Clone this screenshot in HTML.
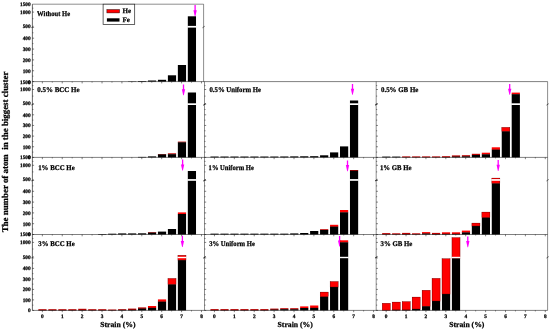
<!DOCTYPE html>
<html lang="en"><head><meta charset="utf-8"><title>Cluster size vs strain</title>
<style>html,body{margin:0;padding:0;background:#fff}svg{display:block}text{font-family:"Liberation Serif","Times New Roman",serif;font-weight:bold;fill:#000;stroke:#000;stroke-width:0.25px;stroke-linejoin:round;text-rendering:geometricPrecision}</style></head><body>
<svg width="550" height="330" viewBox="0 0 550 330">
<rect x="0" y="0" width="550" height="330" fill="#fff"/>
<g fill="#f0f" stroke="none">
<path d="M194.45 5h1.3V10.3h1L195.4 16.4h-0.6L193.45 10.3h1z"/>
<path d="M182.85 84.5h1.3V89.2h1L183.8 95.3h-0.6L181.85 89.2h1z"/>
<path d="M181.95 159.6h1.3V164.4h1L182.9 170.5h-0.6L180.95 164.4h1z"/>
<path d="M181.75 235.8h1.3V240.9h1L182.7 247h-0.6L180.75 240.9h1z"/>
<path d="M351.85 84h1.3V88.7h1L352.8 94.8h-0.6L350.85 88.7h1z"/>
<path d="M346.85 160.4h1.3V165.1h1L347.8 171.2h-0.6L345.85 165.1h1z"/>
<path d="M338.95 236h1.3V240.4h1L339.9 246.5h-0.6L337.95 240.4h1z"/>
<path d="M509.05 84.1h1.3V88.7h1L510 94.8h-0.6L508.05 88.7h1z"/>
<path d="M497.55 160h1.3V164.8h1L498.5 170.9h-0.6L496.55 164.8h1z"/>
<path d="M467.15 236.4h1.3V241.1h1L468.1 247.2h-0.6L466.15 241.1h1z"/>
</g>
<g>
<rect x="128.03" y="81.3" width="8.2" height="0.3" fill="#000"/>
<rect x="138" y="81" width="8.2" height="0.6" fill="#000"/>
<rect x="147.96" y="80.5" width="8.2" height="1.1" fill="#000"/>
<rect x="157.93" y="79.8" width="8.2" height="1.8" fill="#000"/>
<rect x="167.89" y="75.3" width="8.2" height="6.3" fill="#000"/>
<rect x="177.86" y="65" width="8.2" height="16.6" fill="#000"/>
<rect x="187.82" y="16.3" width="8.2" height="65.3" fill="#000"/>
<rect x="187.32" y="25.9" width="9.2" height="1.7" fill="#fff"/>
</g>
<g>
<rect x="138" y="156.9" width="8.2" height="0.5" fill="#000"/>
<rect x="147.96" y="156.4" width="8.2" height="1" fill="#000"/>
<rect x="157.93" y="154" width="8.2" height="0.7" fill="#b00"/>
<rect x="157.93" y="154.4" width="8.2" height="3" fill="#000"/>
<rect x="167.89" y="153.3" width="8.2" height="1.2" fill="#b00"/>
<rect x="167.89" y="154.2" width="8.2" height="3.2" fill="#000"/>
<rect x="177.86" y="141.6" width="8.2" height="1" fill="#b00"/>
<rect x="177.86" y="142.3" width="8.2" height="15.1" fill="#000"/>
<rect x="187.82" y="92.5" width="8.2" height="64.9" fill="#000"/>
<rect x="187.32" y="103.3" width="9.2" height="1.7" fill="#fff"/>
</g>
<g>
<rect x="98.14" y="234" width="8.2" height="0.5" fill="#000"/>
<rect x="108.1" y="233.7" width="8.2" height="0.8" fill="#000"/>
<rect x="118.07" y="233.4" width="8.2" height="1.1" fill="#000"/>
<rect x="128.03" y="233.4" width="8.2" height="1.1" fill="#000"/>
<rect x="138" y="233.3" width="8.2" height="1.2" fill="#000"/>
<rect x="147.96" y="232.2" width="8.2" height="0.7" fill="#b00"/>
<rect x="147.96" y="232.6" width="8.2" height="1.9" fill="#000"/>
<rect x="157.93" y="231.6" width="8.2" height="2.9" fill="#000"/>
<rect x="167.89" y="229" width="8.2" height="5.5" fill="#000"/>
<rect x="177.86" y="212.4" width="8.2" height="1.9" fill="#f00"/>
<rect x="177.86" y="214" width="8.2" height="20.5" fill="#000"/>
<rect x="187.82" y="171" width="8.2" height="63.5" fill="#000"/>
<rect x="187.32" y="179.1" width="9.2" height="1.7" fill="#fff"/>
</g>
<g>
<rect x="38.35" y="309.2" width="8.2" height="1.2" fill="#b00"/>
<rect x="38.35" y="310.1" width="8.2" height="0.3" fill="#000"/>
<rect x="48.31" y="309.2" width="8.2" height="1.2" fill="#b00"/>
<rect x="48.31" y="310.1" width="8.2" height="0.3" fill="#000"/>
<rect x="58.28" y="309.2" width="8.2" height="1.2" fill="#b00"/>
<rect x="58.28" y="310.1" width="8.2" height="0.3" fill="#000"/>
<rect x="68.24" y="309.2" width="8.2" height="1.2" fill="#b00"/>
<rect x="68.24" y="310.1" width="8.2" height="0.3" fill="#000"/>
<rect x="78.21" y="308.8" width="8.2" height="1.5" fill="#b00"/>
<rect x="78.21" y="310" width="8.2" height="0.4" fill="#000"/>
<rect x="88.17" y="309.2" width="8.2" height="1.2" fill="#b00"/>
<rect x="88.17" y="310.1" width="8.2" height="0.3" fill="#000"/>
<rect x="98.14" y="309.2" width="8.2" height="1.2" fill="#b00"/>
<rect x="98.14" y="310.1" width="8.2" height="0.3" fill="#000"/>
<rect x="108.1" y="309.5" width="8.2" height="0.9" fill="#b00"/>
<rect x="108.1" y="310.1" width="8.2" height="0.3" fill="#000"/>
<rect x="118.07" y="309.2" width="8.2" height="1" fill="#b00"/>
<rect x="118.07" y="309.9" width="8.2" height="0.5" fill="#000"/>
<rect x="128.03" y="308.6" width="8.2" height="1.5" fill="#b00"/>
<rect x="128.03" y="309.8" width="8.2" height="0.6" fill="#000"/>
<rect x="138" y="307.4" width="8.2" height="1.5" fill="#b00"/>
<rect x="138" y="308.6" width="8.2" height="1.8" fill="#000"/>
<rect x="147.96" y="306" width="8.2" height="2.1" fill="#f00"/>
<rect x="147.96" y="307.8" width="8.2" height="2.6" fill="#000"/>
<rect x="157.93" y="299.4" width="8.2" height="2.5" fill="#f00"/>
<rect x="157.93" y="301.6" width="8.2" height="8.8" fill="#000"/>
<rect x="167.89" y="278.4" width="8.2" height="6.3" fill="#f00"/>
<rect x="167.89" y="284.4" width="8.2" height="26" fill="#000"/>
<rect x="167.99" y="278.5" width="8" height="5.9" fill="none" stroke="#500" stroke-width="0.35"/>
<rect x="177.86" y="255.2" width="8.2" height="5.2" fill="#f00"/>
<rect x="177.86" y="260.1" width="8.2" height="50.3" fill="#000"/>
<rect x="177.96" y="255.3" width="8" height="4.8" fill="none" stroke="#500" stroke-width="0.35"/>
<rect x="177.36" y="256.8" width="9.2" height="1.4" fill="#fff"/>
</g>
<g>
<rect x="210.45" y="156.55" width="8.2" height="0.85" fill="#000"/>
<rect x="220.41" y="156.55" width="8.2" height="0.85" fill="#000"/>
<rect x="230.38" y="156.55" width="8.2" height="0.85" fill="#000"/>
<rect x="240.34" y="156.55" width="8.2" height="0.85" fill="#000"/>
<rect x="250.31" y="156.55" width="8.2" height="0.85" fill="#000"/>
<rect x="260.27" y="156.55" width="8.2" height="0.85" fill="#000"/>
<rect x="270.24" y="156.55" width="8.2" height="0.85" fill="#000"/>
<rect x="280.2" y="156.5" width="8.2" height="0.9" fill="#000"/>
<rect x="290.17" y="156.4" width="8.2" height="1" fill="#000"/>
<rect x="300.13" y="156.3" width="8.2" height="1.1" fill="#000"/>
<rect x="310.1" y="156.2" width="8.2" height="1.2" fill="#000"/>
<rect x="320.06" y="155.3" width="8.2" height="2.1" fill="#000"/>
<rect x="330.03" y="152.4" width="8.2" height="5" fill="#000"/>
<rect x="340" y="146.4" width="8.2" height="11" fill="#000"/>
<rect x="349.96" y="100.5" width="8.2" height="56.9" fill="#000"/>
<rect x="349.46" y="103.3" width="9.2" height="1.7" fill="#fff"/>
</g>
<g>
<rect x="210.45" y="233.65" width="8.2" height="0.85" fill="#000"/>
<rect x="220.41" y="233.65" width="8.2" height="0.85" fill="#000"/>
<rect x="230.38" y="233.65" width="8.2" height="0.85" fill="#000"/>
<rect x="240.34" y="233.65" width="8.2" height="0.85" fill="#000"/>
<rect x="250.31" y="233.65" width="8.2" height="0.85" fill="#000"/>
<rect x="260.27" y="233.65" width="8.2" height="0.85" fill="#000"/>
<rect x="270.24" y="233.65" width="8.2" height="0.85" fill="#000"/>
<rect x="280.2" y="233.65" width="8.2" height="0.85" fill="#000"/>
<rect x="290.17" y="233.4" width="8.2" height="1.1" fill="#000"/>
<rect x="300.13" y="233" width="8.2" height="1.5" fill="#000"/>
<rect x="310.1" y="231" width="8.2" height="3.5" fill="#000"/>
<rect x="320.06" y="229.2" width="8.2" height="1.1" fill="#b00"/>
<rect x="320.06" y="230" width="8.2" height="4.5" fill="#000"/>
<rect x="330.03" y="224.8" width="8.2" height="2.1" fill="#f00"/>
<rect x="330.03" y="226.6" width="8.2" height="7.9" fill="#000"/>
<rect x="340" y="210" width="8.2" height="2.6" fill="#f00"/>
<rect x="340" y="212.3" width="8.2" height="22.2" fill="#000"/>
<rect x="349.96" y="170" width="8.2" height="1" fill="#b00"/>
<rect x="349.96" y="170.7" width="8.2" height="63.8" fill="#000"/>
<rect x="349.46" y="179.1" width="9.2" height="1.7" fill="#fff"/>
</g>
<g>
<rect x="210.45" y="309.1" width="8.2" height="1.3" fill="#b00"/>
<rect x="210.45" y="310.1" width="8.2" height="0.3" fill="#000"/>
<rect x="220.41" y="309.1" width="8.2" height="1.3" fill="#b00"/>
<rect x="220.41" y="310.1" width="8.2" height="0.3" fill="#000"/>
<rect x="230.38" y="309.1" width="8.2" height="1.3" fill="#b00"/>
<rect x="230.38" y="310.1" width="8.2" height="0.3" fill="#000"/>
<rect x="240.34" y="309.1" width="8.2" height="1.3" fill="#b00"/>
<rect x="240.34" y="310.1" width="8.2" height="0.3" fill="#000"/>
<rect x="250.31" y="309.1" width="8.2" height="1.3" fill="#b00"/>
<rect x="250.31" y="310.1" width="8.2" height="0.3" fill="#000"/>
<rect x="260.27" y="309.1" width="8.2" height="1.3" fill="#b00"/>
<rect x="260.27" y="310.1" width="8.2" height="0.3" fill="#000"/>
<rect x="270.24" y="308.6" width="8.2" height="1.3" fill="#b00"/>
<rect x="270.24" y="309.6" width="8.2" height="0.8" fill="#000"/>
<rect x="280.2" y="308.2" width="8.2" height="1.3" fill="#b00"/>
<rect x="280.2" y="309.2" width="8.2" height="1.2" fill="#000"/>
<rect x="290.17" y="308.2" width="8.2" height="1.4" fill="#b00"/>
<rect x="290.17" y="309.3" width="8.2" height="1.1" fill="#000"/>
<rect x="300.13" y="306.4" width="8.2" height="1.9" fill="#f00"/>
<rect x="300.13" y="308" width="8.2" height="2.4" fill="#000"/>
<rect x="310.1" y="305.5" width="8.2" height="2.6" fill="#f00"/>
<rect x="310.1" y="307.8" width="8.2" height="2.6" fill="#000"/>
<rect x="320.06" y="292" width="8.2" height="5.1" fill="#f00"/>
<rect x="320.06" y="296.8" width="8.2" height="13.6" fill="#000"/>
<rect x="320.17" y="292.1" width="8" height="4.7" fill="none" stroke="#500" stroke-width="0.35"/>
<rect x="330.03" y="281.5" width="8.2" height="5.8" fill="#f00"/>
<rect x="330.03" y="287" width="8.2" height="23.4" fill="#000"/>
<rect x="330.13" y="281.6" width="8" height="5.4" fill="none" stroke="#500" stroke-width="0.35"/>
<rect x="340" y="240.3" width="8.2" height="2.3" fill="#f00"/>
<rect x="340" y="242.3" width="8.2" height="68.1" fill="#000"/>
<rect x="339.5" y="256.8" width="9.2" height="1.4" fill="#fff"/>
</g>
<g>
<rect x="382.15" y="156.6" width="8.2" height="0.8" fill="#000"/>
<rect x="392.11" y="156.6" width="8.2" height="0.8" fill="#000"/>
<rect x="402.08" y="156.4" width="8.2" height="1" fill="#b00"/>
<rect x="402.08" y="157.2" width="8.2" height="0.2" fill="#000"/>
<rect x="412.04" y="156.4" width="8.2" height="1" fill="#b00"/>
<rect x="412.04" y="157.2" width="8.2" height="0.2" fill="#000"/>
<rect x="422.01" y="156.4" width="8.2" height="1" fill="#b00"/>
<rect x="422.01" y="157.2" width="8.2" height="0.2" fill="#000"/>
<rect x="431.97" y="156.4" width="8.2" height="1" fill="#b00"/>
<rect x="431.97" y="157.2" width="8.2" height="0.2" fill="#000"/>
<rect x="441.94" y="156.2" width="8.2" height="1.2" fill="#b00"/>
<rect x="441.94" y="157.1" width="8.2" height="0.3" fill="#000"/>
<rect x="451.9" y="155.4" width="8.2" height="1.5" fill="#b00"/>
<rect x="451.9" y="156.6" width="8.2" height="0.8" fill="#000"/>
<rect x="461.87" y="155.2" width="8.2" height="1.5" fill="#b00"/>
<rect x="461.87" y="156.4" width="8.2" height="1" fill="#000"/>
<rect x="471.83" y="153.8" width="8.2" height="1.5" fill="#b00"/>
<rect x="471.83" y="155" width="8.2" height="2.4" fill="#000"/>
<rect x="481.8" y="152.7" width="8.2" height="1.9" fill="#f00"/>
<rect x="481.8" y="154.3" width="8.2" height="3.1" fill="#000"/>
<rect x="491.76" y="147.3" width="8.2" height="2.6" fill="#f00"/>
<rect x="491.76" y="149.6" width="8.2" height="7.8" fill="#000"/>
<rect x="501.73" y="127.3" width="8.2" height="4.3" fill="#f00"/>
<rect x="501.73" y="131.3" width="8.2" height="26.1" fill="#000"/>
<rect x="501.83" y="127.4" width="8" height="3.9" fill="none" stroke="#500" stroke-width="0.35"/>
<rect x="511.69" y="92.6" width="8.2" height="1.9" fill="#f00"/>
<rect x="511.69" y="94.2" width="8.2" height="63.2" fill="#000"/>
<rect x="511.19" y="103.3" width="9.2" height="1.7" fill="#fff"/>
</g>
<g>
<rect x="382.15" y="233.1" width="8.2" height="1.4" fill="#b00"/>
<rect x="382.15" y="234.3" width="8.2" height="0.2" fill="#000"/>
<rect x="392.11" y="233.3" width="8.2" height="1.2" fill="#b00"/>
<rect x="392.11" y="234.3" width="8.2" height="0.2" fill="#000"/>
<rect x="402.08" y="232.9" width="8.2" height="1.6" fill="#b00"/>
<rect x="402.08" y="234.2" width="8.2" height="0.3" fill="#000"/>
<rect x="412.04" y="233.3" width="8.2" height="1.2" fill="#b00"/>
<rect x="412.04" y="234.3" width="8.2" height="0.2" fill="#000"/>
<rect x="422.01" y="232.1" width="8.2" height="1.7" fill="#f00"/>
<rect x="422.01" y="233.5" width="8.2" height="1" fill="#000"/>
<rect x="431.97" y="232.9" width="8.2" height="1.5" fill="#b00"/>
<rect x="431.97" y="234.1" width="8.2" height="0.4" fill="#000"/>
<rect x="441.94" y="232.3" width="8.2" height="1.8" fill="#f00"/>
<rect x="441.94" y="233.8" width="8.2" height="0.7" fill="#000"/>
<rect x="451.9" y="232.3" width="8.2" height="1.8" fill="#f00"/>
<rect x="451.9" y="233.8" width="8.2" height="0.7" fill="#000"/>
<rect x="461.87" y="230.6" width="8.2" height="2.1" fill="#f00"/>
<rect x="461.87" y="232.4" width="8.2" height="2.1" fill="#000"/>
<rect x="471.83" y="223" width="8.2" height="3.3" fill="#f00"/>
<rect x="471.83" y="226" width="8.2" height="8.5" fill="#000"/>
<rect x="471.94" y="223.1" width="8" height="2.9" fill="none" stroke="#500" stroke-width="0.35"/>
<rect x="481.8" y="212" width="8.2" height="5.9" fill="#f00"/>
<rect x="481.8" y="217.6" width="8.2" height="16.9" fill="#000"/>
<rect x="481.9" y="212.1" width="8" height="5.5" fill="none" stroke="#500" stroke-width="0.35"/>
<rect x="491.76" y="178" width="8.2" height="5.7" fill="#f00"/>
<rect x="491.76" y="183.4" width="8.2" height="51.1" fill="#000"/>
<rect x="491.87" y="178.1" width="8" height="5.3" fill="none" stroke="#500" stroke-width="0.35"/>
<rect x="491.26" y="179.1" width="9.2" height="1.7" fill="#fff"/>
</g>
<g>
<rect x="382.15" y="303.2" width="8.2" height="7.2" fill="#f00"/>
<rect x="382.25" y="303.3" width="8" height="7.1" fill="none" stroke="#500" stroke-width="0.35"/>
<rect x="392.11" y="302" width="8.2" height="8.2" fill="#f00"/>
<rect x="392.11" y="309.9" width="8.2" height="0.5" fill="#000"/>
<rect x="392.21" y="302.1" width="8" height="7.8" fill="none" stroke="#500" stroke-width="0.35"/>
<rect x="402.08" y="301.6" width="8.2" height="8.6" fill="#f00"/>
<rect x="402.08" y="309.9" width="8.2" height="0.5" fill="#000"/>
<rect x="402.18" y="301.7" width="8" height="8.2" fill="none" stroke="#500" stroke-width="0.35"/>
<rect x="412.04" y="297" width="8.2" height="12.3" fill="#f00"/>
<rect x="412.04" y="309" width="8.2" height="1.4" fill="#000"/>
<rect x="412.14" y="297.1" width="8" height="11.9" fill="none" stroke="#500" stroke-width="0.35"/>
<rect x="422.01" y="290.2" width="8.2" height="16.3" fill="#f00"/>
<rect x="422.01" y="306.2" width="8.2" height="4.2" fill="#000"/>
<rect x="422.11" y="290.3" width="8" height="15.9" fill="none" stroke="#500" stroke-width="0.35"/>
<rect x="431.97" y="278.3" width="8.2" height="23" fill="#f00"/>
<rect x="431.97" y="301" width="8.2" height="9.4" fill="#000"/>
<rect x="432.07" y="278.4" width="8" height="22.6" fill="none" stroke="#500" stroke-width="0.35"/>
<rect x="441.94" y="258.7" width="8.2" height="35.6" fill="#f00"/>
<rect x="441.94" y="294" width="8.2" height="16.4" fill="#000"/>
<rect x="442.04" y="258.8" width="8" height="35.2" fill="none" stroke="#500" stroke-width="0.35"/>
<rect x="451.9" y="237.6" width="8.2" height="20.9" fill="#f00"/>
<rect x="451.9" y="258.2" width="8.2" height="52.2" fill="#000"/>
<rect x="452" y="237.7" width="8" height="20.5" fill="none" stroke="#500" stroke-width="0.35"/>
<rect x="451.4" y="256.8" width="9.2" height="1.4" fill="#fff"/>
</g>
<g stroke="#000" stroke-width="0.45" fill="none">
<path d="M32.4 4.2V310.4" stroke-width="0.6"/>
<path d="M203.6 4.2V81.6M204.5 81.6V310.4M376.2 81.6V310.4M547.6 81.6V310.4M32.4 4.2H203.6"/>
<path d="M32.4 81.6H547.6M32.4 157.4H547.6M32.4 234.5H547.6M32.4 310.4H547.6" stroke-width="0.5"/>
</g>
<g stroke="#000" stroke-width="0.5" fill="none">
<path d="M32.4 81.6h1.7M32.4 76.17h1M32.4 70.75h1.7M32.4 65.32h1M32.4 59.9h1.7M32.4 54.47h1M32.4 49.05h1.7M32.4 43.62h1M32.4 38.2h1.7M32.4 32.77h1M32.4 27.35h1.7M32.4 12.1h1.7M32.4 8.2h1M32.4 18.7h1M42.35 81.6v1.8M52.29 81.6v1M62.24 81.6v1.8M72.19 81.6v1M82.13 81.6v1.8M92.07 81.6v1M102.02 81.6v1.8M111.97 81.6v1M121.91 81.6v1.8M131.85 81.6v1M141.8 81.6v1.8M151.75 81.6v1M161.69 81.6v1.8M171.63 81.6v1M181.58 81.6v1.8M191.53 81.6v1M201.47 81.6v1.8M31.2 27.8l2.4 -1.6M202.4 27.8l2.4 -1.6M32.4 157.4h1.7M32.4 152.08h1M32.4 146.75h1.7M32.4 141.43h1M32.4 136.1h1.7M32.4 130.78h1M32.4 125.45h1.7M32.4 120.12h1M32.4 114.8h1.7M32.4 109.47h1M32.4 104.15h1.7M32.4 89.5h1.7M32.4 85.6h1M32.4 96.1h1M42.35 157.4v1.8M52.29 157.4v1M62.24 157.4v1.8M72.19 157.4v1M82.13 157.4v1.8M92.07 157.4v1M102.02 157.4v1.8M111.97 157.4v1M121.91 157.4v1.8M131.85 157.4v1M141.8 157.4v1.8M151.75 157.4v1M161.69 157.4v1.8M171.63 157.4v1M181.58 157.4v1.8M191.53 157.4v1M201.47 157.4v1.8M31.2 105.2l2.4 -1.6M203.3 105.2l2.4 -1.6M32.4 234.5h1.7M32.4 229.1h1M32.4 223.7h1.7M32.4 218.3h1M32.4 212.9h1.7M32.4 207.5h1M32.4 202.1h1.7M32.4 196.7h1M32.4 191.3h1.7M32.4 185.9h1M32.4 180.5h1.7M32.4 165.3h1.7M32.4 161.4h1M32.4 171.9h1M42.35 234.5v1.8M52.29 234.5v1M62.24 234.5v1.8M72.19 234.5v1M82.13 234.5v1.8M92.07 234.5v1M102.02 234.5v1.8M111.97 234.5v1M121.91 234.5v1.8M131.85 234.5v1M141.8 234.5v1.8M151.75 234.5v1M161.69 234.5v1.8M171.63 234.5v1M181.58 234.5v1.8M191.53 234.5v1M201.47 234.5v1.8M31.2 181l2.4 -1.6M203.3 181l2.4 -1.6M32.4 310.4h1.7M32.4 305.15h1M32.4 299.9h1.7M32.4 294.65h1M32.4 289.4h1.7M32.4 284.15h1M32.4 278.9h1.7M32.4 273.65h1M32.4 268.4h1.7M32.4 263.15h1M32.4 257.9h1.7M32.4 242.4h1.7M32.4 238.5h1M32.4 249h1M42.35 310.4v1.8M52.29 310.4v1M62.24 310.4v1.8M72.19 310.4v1M82.13 310.4v1.8M92.07 310.4v1M102.02 310.4v1.8M111.97 310.4v1M121.91 310.4v1.8M131.85 310.4v1M141.8 310.4v1.8M151.75 310.4v1M161.69 310.4v1.8M171.63 310.4v1M181.58 310.4v1.8M191.53 310.4v1M201.47 310.4v1.8M31.2 258.1l2.4 -1.6M203.3 258.1l2.4 -1.6M204.5 157.4h1.7M204.5 152.08h1M204.5 146.75h1.7M204.5 141.43h1M204.5 136.1h1.7M204.5 130.78h1M204.5 125.45h1.7M204.5 120.12h1M204.5 114.8h1.7M204.5 109.47h1M204.5 104.15h1.7M204.5 89.5h1.7M204.5 85.6h1M204.5 96.1h1M214.45 157.4v1.8M224.39 157.4v1M234.34 157.4v1.8M244.28 157.4v1M254.23 157.4v1.8M264.18 157.4v1M274.12 157.4v1.8M284.06 157.4v1M294.01 157.4v1.8M303.95 157.4v1M313.9 157.4v1.8M323.85 157.4v1M333.79 157.4v1.8M343.74 157.4v1M353.68 157.4v1.8M363.62 157.4v1M373.57 157.4v1.8M203.3 105.2l2.4 -1.6M375 105.2l2.4 -1.6M204.5 234.5h1.7M204.5 229.1h1M204.5 223.7h1.7M204.5 218.3h1M204.5 212.9h1.7M204.5 207.5h1M204.5 202.1h1.7M204.5 196.7h1M204.5 191.3h1.7M204.5 185.9h1M204.5 180.5h1.7M204.5 165.3h1.7M204.5 161.4h1M204.5 171.9h1M214.45 234.5v1.8M224.39 234.5v1M234.34 234.5v1.8M244.28 234.5v1M254.23 234.5v1.8M264.18 234.5v1M274.12 234.5v1.8M284.06 234.5v1M294.01 234.5v1.8M303.95 234.5v1M313.9 234.5v1.8M323.85 234.5v1M333.79 234.5v1.8M343.74 234.5v1M353.68 234.5v1.8M363.62 234.5v1M373.57 234.5v1.8M203.3 181l2.4 -1.6M375 181l2.4 -1.6M204.5 310.4h1.7M204.5 305.15h1M204.5 299.9h1.7M204.5 294.65h1M204.5 289.4h1.7M204.5 284.15h1M204.5 278.9h1.7M204.5 273.65h1M204.5 268.4h1.7M204.5 263.15h1M204.5 257.9h1.7M204.5 242.4h1.7M204.5 238.5h1M204.5 249h1M214.45 310.4v1.8M224.39 310.4v1M234.34 310.4v1.8M244.28 310.4v1M254.23 310.4v1.8M264.18 310.4v1M274.12 310.4v1.8M284.06 310.4v1M294.01 310.4v1.8M303.95 310.4v1M313.9 310.4v1.8M323.85 310.4v1M333.79 310.4v1.8M343.74 310.4v1M353.68 310.4v1.8M363.62 310.4v1M373.57 310.4v1.8M203.3 258.1l2.4 -1.6M375 258.1l2.4 -1.6M376.2 157.4h1.7M376.2 152.08h1M376.2 146.75h1.7M376.2 141.43h1M376.2 136.1h1.7M376.2 130.78h1M376.2 125.45h1.7M376.2 120.12h1M376.2 114.8h1.7M376.2 109.47h1M376.2 104.15h1.7M376.2 89.5h1.7M376.2 85.6h1M376.2 96.1h1M386.15 157.4v1.8M396.09 157.4v1M406.04 157.4v1.8M415.98 157.4v1M425.93 157.4v1.8M435.88 157.4v1M445.82 157.4v1.8M455.76 157.4v1M465.71 157.4v1.8M475.65 157.4v1M485.6 157.4v1.8M495.54 157.4v1M505.49 157.4v1.8M515.43 157.4v1M525.38 157.4v1.8M535.33 157.4v1M545.27 157.4v1.8M375 105.2l2.4 -1.6M546.4 105.2l2.4 -1.6M376.2 234.5h1.7M376.2 229.1h1M376.2 223.7h1.7M376.2 218.3h1M376.2 212.9h1.7M376.2 207.5h1M376.2 202.1h1.7M376.2 196.7h1M376.2 191.3h1.7M376.2 185.9h1M376.2 180.5h1.7M376.2 165.3h1.7M376.2 161.4h1M376.2 171.9h1M386.15 234.5v1.8M396.09 234.5v1M406.04 234.5v1.8M415.98 234.5v1M425.93 234.5v1.8M435.88 234.5v1M445.82 234.5v1.8M455.76 234.5v1M465.71 234.5v1.8M475.65 234.5v1M485.6 234.5v1.8M495.54 234.5v1M505.49 234.5v1.8M515.43 234.5v1M525.38 234.5v1.8M535.33 234.5v1M545.27 234.5v1.8M375 181l2.4 -1.6M546.4 181l2.4 -1.6M376.2 310.4h1.7M376.2 305.15h1M376.2 299.9h1.7M376.2 294.65h1M376.2 289.4h1.7M376.2 284.15h1M376.2 278.9h1.7M376.2 273.65h1M376.2 268.4h1.7M376.2 263.15h1M376.2 257.9h1.7M376.2 242.4h1.7M376.2 238.5h1M376.2 249h1M386.15 310.4v1.8M396.09 310.4v1M406.04 310.4v1.8M415.98 310.4v1M425.93 310.4v1.8M435.88 310.4v1M445.82 310.4v1.8M455.76 310.4v1M465.71 310.4v1.8M475.65 310.4v1M485.6 310.4v1.8M495.54 310.4v1M505.49 310.4v1.8M515.43 310.4v1M525.38 310.4v1.8M535.33 310.4v1M545.27 310.4v1.8M375 258.1l2.4 -1.6M546.4 258.1l2.4 -1.6"/>
</g>
<rect x="103.1" y="4.2" width="31.6" height="20.3" fill="#fff" stroke="#222" stroke-width="0.7"/>
<rect x="106.9" y="9.6" width="12.6" height="3.3" fill="#f00" stroke="#200" stroke-width="0.5"/>
<rect x="106.9" y="18.3" width="12.6" height="3.3" fill="#000"/>
<text x="122.5" y="13" font-size="7">He</text>
<text x="122.5" y="21.7" font-size="7">Fe</text>
<g font-size="7.2">
<text x="37.1" y="15.5" textLength="33" lengthAdjust="spacingAndGlyphs">Without He</text>
<text x="37.3" y="92.2" textLength="42.3" lengthAdjust="spacingAndGlyphs">0.5% BCC He</text>
<text x="38.2" y="169.9" textLength="36.5" lengthAdjust="spacingAndGlyphs">1% BCC He</text>
<text x="38.3" y="245.5" textLength="36.4" lengthAdjust="spacingAndGlyphs">3% BCC He</text>
<text x="209.5" y="92.2" textLength="51.4" lengthAdjust="spacingAndGlyphs">0.5% Uniform He</text>
<text x="208.6" y="169.9" textLength="45.3" lengthAdjust="spacingAndGlyphs">1% Uniform He</text>
<text x="209.2" y="245.5" textLength="45.7" lengthAdjust="spacingAndGlyphs">3% Uniform He</text>
<text x="381" y="92.2" textLength="37.3" lengthAdjust="spacingAndGlyphs">0.5% GB He</text>
<text x="380" y="169.9" textLength="31.5" lengthAdjust="spacingAndGlyphs">1% GB He</text>
<text x="380.5" y="245.5" textLength="31.7" lengthAdjust="spacingAndGlyphs">3% GB He</text>
</g>
<g font-size="5.3" text-anchor="end">
<text x="30.6" y="6.1">1500</text>
<text x="30.6" y="14">1000</text>
<text x="30.6" y="28.3">500</text>
<text x="30.6" y="72.65">100</text>
<text x="30.6" y="61.8">200</text>
<text x="30.6" y="50.95">300</text>
<text x="30.6" y="40.1">400</text>
<text x="30.6" y="83.5">1500</text>
<text x="30.6" y="83.5">0</text>
<text x="30.6" y="91.4">1000</text>
<text x="30.6" y="104.8">500</text>
<text x="30.6" y="148.65">100</text>
<text x="30.6" y="138">200</text>
<text x="30.6" y="127.35">300</text>
<text x="30.6" y="116.7">400</text>
<text x="30.6" y="159.3">1500</text>
<text x="30.6" y="159.3">0</text>
<text x="30.6" y="167.2">1000</text>
<text x="30.6" y="180.8">500</text>
<text x="30.6" y="225.6">100</text>
<text x="30.6" y="214.8">200</text>
<text x="30.6" y="204">300</text>
<text x="30.6" y="193.2">400</text>
<text x="30.6" y="236.4">1500</text>
<text x="30.6" y="236.4">0</text>
<text x="30.6" y="244.3">1000</text>
<text x="30.6" y="259">500</text>
<text x="30.6" y="301.8">100</text>
<text x="30.6" y="291.3">200</text>
<text x="30.6" y="280.8">300</text>
<text x="30.6" y="270.3">400</text>
<text x="30.6" y="312.3">0</text>
</g>
<g font-size="5.3" text-anchor="middle">
<text x="42.35" y="317.6">0</text>
<text x="62.24" y="317.6">1</text>
<text x="82.13" y="317.6">2</text>
<text x="102.02" y="317.6">3</text>
<text x="121.91" y="317.6">4</text>
<text x="141.8" y="317.6">5</text>
<text x="161.69" y="317.6">6</text>
<text x="181.58" y="317.6">7</text>
<text x="201.47" y="317.6">8</text>
<text x="214.45" y="317.6">0</text>
<text x="234.34" y="317.6">1</text>
<text x="254.23" y="317.6">2</text>
<text x="274.12" y="317.6">3</text>
<text x="294.01" y="317.6">4</text>
<text x="313.9" y="317.6">5</text>
<text x="333.79" y="317.6">6</text>
<text x="353.68" y="317.6">7</text>
<text x="373.57" y="317.6">8</text>
<text x="386.15" y="317.6">0</text>
<text x="406.04" y="317.6">1</text>
<text x="425.93" y="317.6">2</text>
<text x="445.82" y="317.6">3</text>
<text x="465.71" y="317.6">4</text>
<text x="485.6" y="317.6">5</text>
<text x="505.49" y="317.6">6</text>
<text x="525.38" y="317.6">7</text>
<text x="545.27" y="317.6">8</text>
</g>
<g font-size="7.6" text-anchor="middle">
<text x="117.85" y="326.7" textLength="35.3" lengthAdjust="spacingAndGlyphs">Strain (%)</text>
<text x="295.2" y="326.7" textLength="35.3" lengthAdjust="spacingAndGlyphs">Strain (%)</text>
<text x="466.8" y="326.7" textLength="35.3" lengthAdjust="spacingAndGlyphs">Strain (%)</text>
</g>
<text transform="translate(7.6 232.3) rotate(-90)" font-size="8.8" textLength="160.7" lengthAdjust="spacingAndGlyphs" xml:space="preserve">The number of atom  in the biggest cluster</text>
</svg></body></html>
